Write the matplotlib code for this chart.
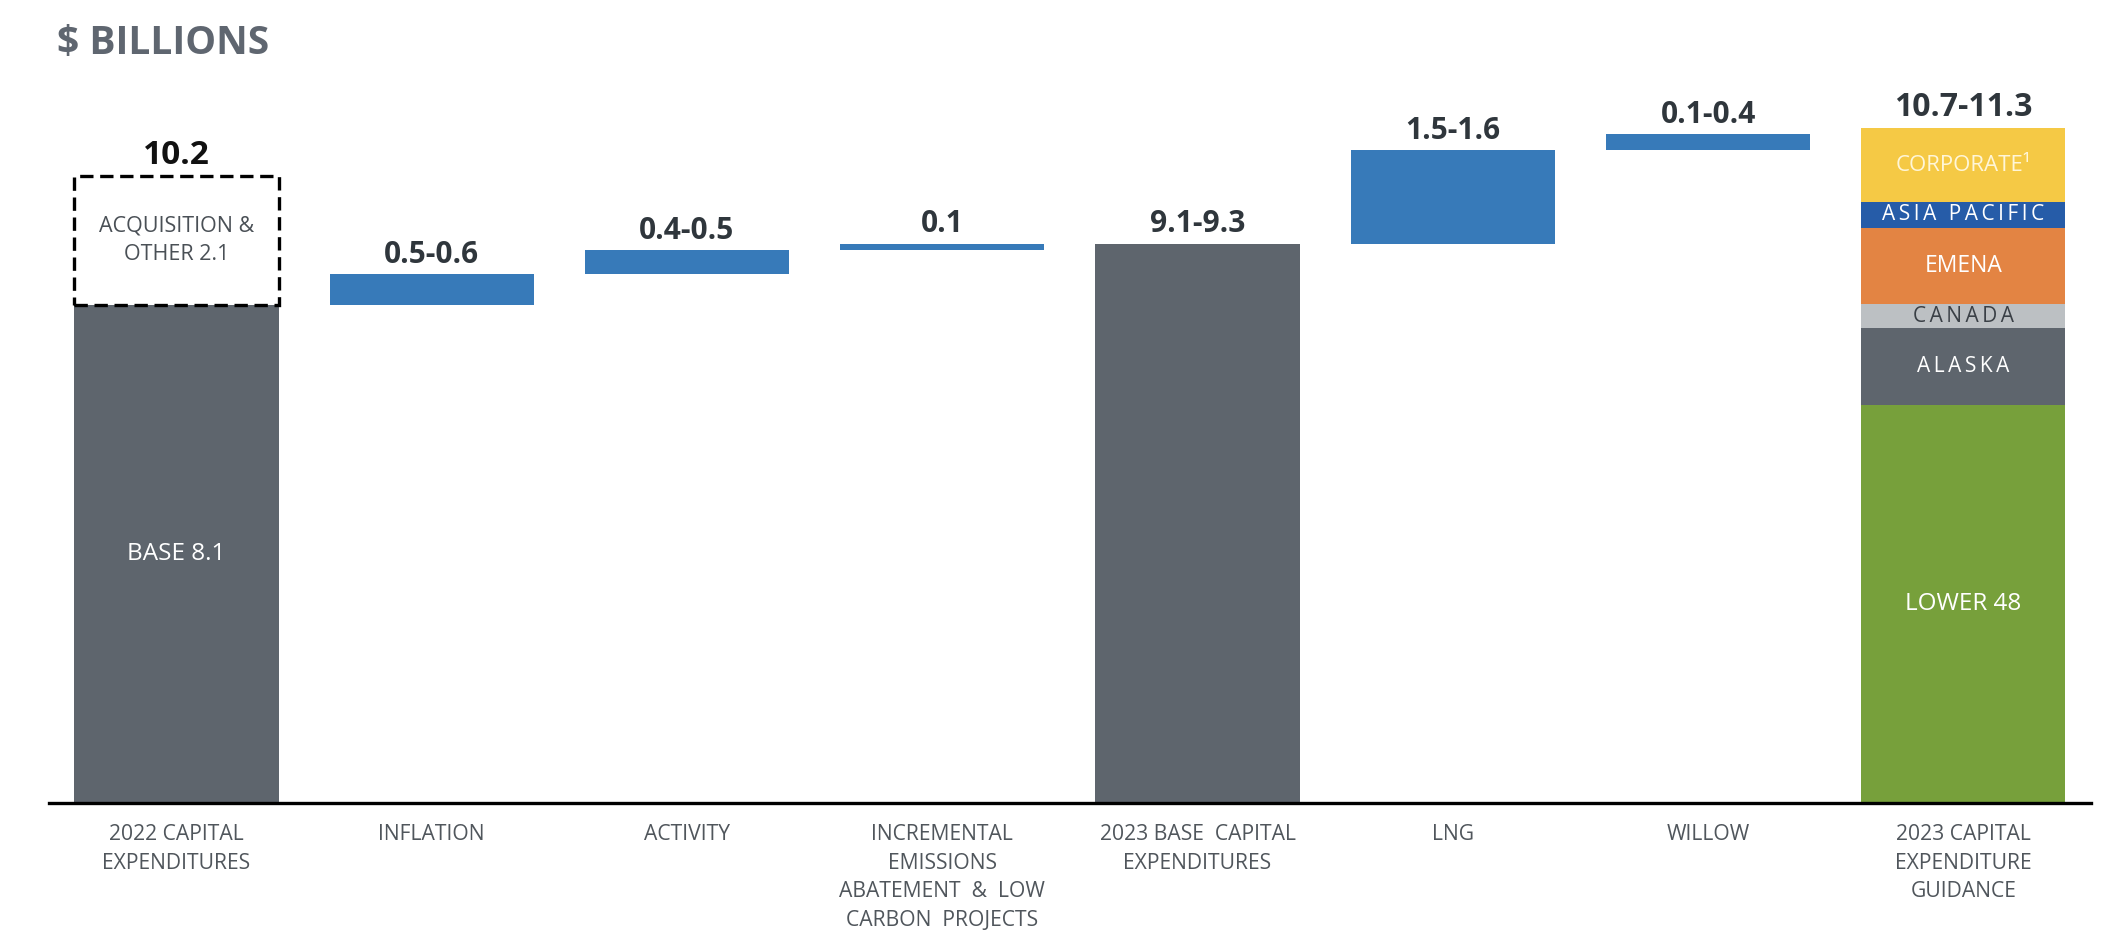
import numpy as np
import matplotlib

matplotlib.use("Agg")
import matplotlib.pyplot as plt

plt.rcParams["font.family"] = ["Open Sans", "DejaVu Sans"]

# Data ($ billions)
categories = [
    "2022 CAPITAL\nEXPENDITURES",
    "INFLATION",
    "ACTIVITY",
    "INCREMENTAL\nEMISSIONS\nABATEMENT  &  LOW\nCARBON  PROJECTS",
    "2023 BASE  CAPITAL\nEXPENDITURES",
    "LNG",
    "WILLOW",
    "2023 CAPITAL\nEXPENDITURE\nGUIDANCE",
]
value_labels = ["10.2", "0.5-0.6", "0.4-0.5", "0.1", "9.1-9.3", "1.5-1.6",
                "0.1-0.4", "10.7-11.3"]
base_2022 = 8.1
acq_other_2022 = 2.1
step_heights = [0.5, 0.4, 0.1]        # inflation, activity, incremental
base_2023 = 9.1
growth_heights = [1.52, 0.26]         # LNG, Willow
segments = ["LOWER 48", "ALASKA", "CANADA", "EMENA", "ASIA PACIFIC",
            "CORPORATE\u00b9"]
segment_values = [6.47, 1.25, 0.40, 1.24, 0.41, 1.21]

GRAY = "#5e656d"
BLUE = "#377ab9"
seg_colors = ["#77a03b", "#5e656d", "#bcc0c3", "#e38443", "#265ca8", "#f5c945"]
seg_text = ["white", "white", "#3a4046", "white", "white", "#fff6d8"]
seg_size = [17.5, 15, 15, 16.5, 15, 16]
tracked = {"ALASKA", "CANADA", "ASIA PACIFIC"}


def track(s, sep="\u2009"):
    """Fake letter spacing by putting thin spaces between characters."""
    return sep.join(s)


W, H = 2116, 942
fig = plt.figure(figsize=(W / 100, H / 100), dpi=100)
ax = fig.add_axes([48.8 / W, 139 / H, (2091 - 48.8) / W, 703 / H])
ax.set_xlim(-0.5, 7.5)
ax.set_ylim(0, 703 / 61.48)

width = 0.8
x = np.arange(len(categories))

# 2022 capital expenditures: base + dashed acquisition box
ax.bar(x[0], base_2022, width, color=GRAY)
ax.bar(x[0], acq_other_2022, width, bottom=base_2022, facecolor="none",
       edgecolor="black", linewidth=2.4, linestyle=(0, (4, 2)))
ax.text(x[0], base_2022 / 2, "BASE 8.1", ha="center", va="center",
        color="white", fontsize=17.5)
ax.text(x[0], base_2022 + acq_other_2022 / 2, "ACQUISITION &\nOTHER 2.1",
        ha="center", va="center", color="#4a5056", fontsize=15.5,
        linespacing=1.45)

# incremental steps to 2023 base
step_bottoms = base_2022 + np.concatenate([[0], np.cumsum(step_heights)[:-1]])
ax.bar(x[1:4], step_heights, width, bottom=step_bottoms, color=BLUE)

ax.bar(x[4], base_2023, width, color=GRAY)

growth_bottoms = base_2023 + np.concatenate([[0], np.cumsum(growth_heights)[:-1]])
ax.bar(x[5:7], growth_heights, width, bottom=growth_bottoms, color=BLUE)

# 2023 guidance stacked by region
seg_bottoms = np.concatenate([[0], np.cumsum(segment_values)[:-1]])
for name, val, bot, col, tcol, fs in zip(segments, segment_values, seg_bottoms,
                                         seg_colors, seg_text, seg_size):
    ax.bar(x[7], val, width, bottom=bot, color=col)
    label = track(name) if name in tracked else name
    ax.text(x[7], bot + val / 2, label, ha="center", va="center", color=tcol,
            fontsize=fs)

# value labels above bars
tops = [base_2022 + acq_other_2022]
tops += list(step_bottoms + np.array(step_heights))
tops += [base_2023]
tops += list(growth_bottoms + np.array(growth_heights))
tops += [sum(segment_values)]
for i, (xi, top, lab) in enumerate(zip(x, tops, value_labels)):
    fs = 24 if i == 0 else (23 if i == 7 else 21.5)
    ax.annotate(lab, (xi, top), xytext=(0, 3), textcoords="offset points",
                ha="center", va="bottom", fontweight="bold", fontsize=fs,
                color="#111111" if i == 0 else "#2f363c")

# axes styling
for s in ["top", "right", "left"]:
    ax.spines[s].set_visible(False)
ax.spines["bottom"].set_color("black")
ax.spines["bottom"].set_linewidth(2.4)
ax.set_yticks([])
ax.set_xticks(x)
ax.set_xticklabels(categories, fontsize=15.2, color="#50565c", linespacing=1.48,
                   va="top")
ax.tick_params(axis="x", length=0, pad=15)

fig.text(57 / W, 1 - 44 / H, "$ BILLIONS", ha="left", va="center",
         fontsize=28, fontweight="bold", color="#5f6670")

fig.savefig("out.png", dpi=100)
